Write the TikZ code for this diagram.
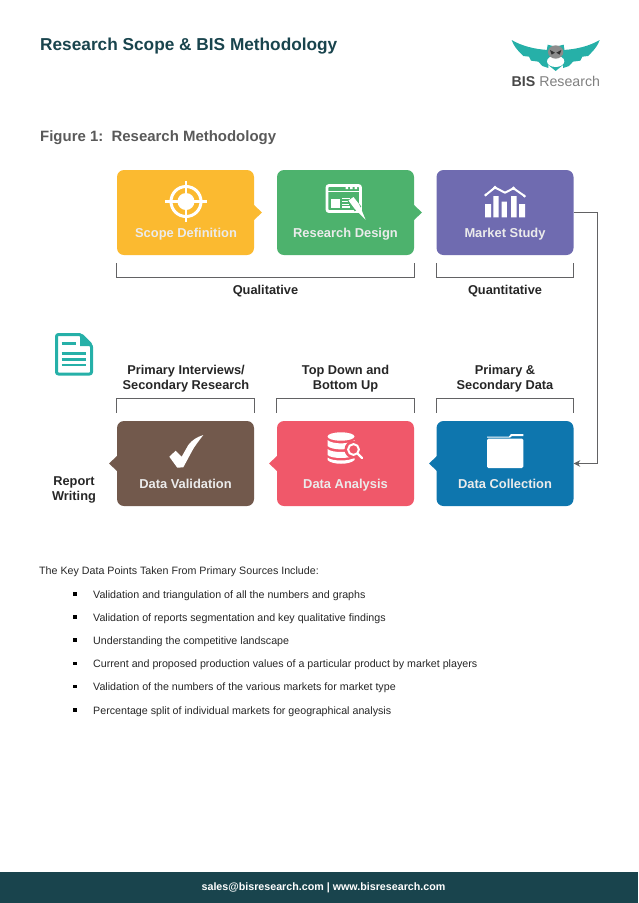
\documentclass[tikz,border=0pt]{standalone}
\usepackage{fontspec}
\setmainfont{Liberation Sans}
\usepackage{tikz}
\usetikzlibrary{arrows.meta}

\definecolor{scopeyellow}{HTML}{FBBA30}
\definecolor{designgreen}{HTML}{4DB26D}
\definecolor{studypurple}{HTML}{6F6BB0}
\definecolor{validbrown}{HTML}{72594C}
\definecolor{analysisred}{HTML}{F0586A}
\definecolor{collectblue}{HTML}{0E76AE}
\definecolor{bandteal}{HTML}{19444D}
\definecolor{owlteal}{HTML}{26B0A8}
\definecolor{rulegray}{HTML}{626264}

\begin{document}
\begin{tikzpicture}[x=1pt, y=-1pt]
  % Define styles
  \tikzstyle{block} = [rectangle, rounded corners=7pt, minimum width=137pt, minimum height=85pt, inner sep=0pt]
  \tikzstyle{blocktext} = [anchor=base, text=white!92!black, font=\fontsize{12.9}{15}\selectfont\bfseries, inner sep=0pt]
  \tikzstyle{grouptag} = [align=center, text=black!85, font=\fontsize{12.8}{15}\selectfont\bfseries, inner sep=0pt]
  \tikzstyle{bodyline} = [anchor=base west, text=black!85, font=\fontsize{10.68}{13}\selectfont, inner sep=0pt]
  \tikzstyle{squaredot} = [rectangle, fill=black, minimum size=3.6pt, inner sep=0pt]
  \tikzstyle{bracket} = [draw=rulegray, line width=1.1pt]

  \useasboundingbox (0,0) rectangle (638,903);

  % Page heading
  \node[anchor=west, inner sep=0pt, text=bandteal, font=\fontsize{17.25}{20}\selectfont\bfseries] (title) at (40,46) {Research Scope \& BIS Methodology};
  \node[anchor=west, inner sep=0pt, text=black!65, font=\fontsize{14.95}{18}\selectfont\bfseries] (figure) at (40,138) {Figure 1:\ \ Research Methodology};

  % Logo
  \begin{scope}[shift={(505,30)}, x=0.3333pt, y=-0.3333pt]
    \fill[owlteal] (20,30) .. controls (50,48) and (90,58) .. (130,60) -- (130,114) -- (112,108) -- (100,95) -- (78,92) -- (72,80) -- (55,78) -- (45,68) .. controls (35,58) and (25,45) .. cycle;
  \end{scope}
  \begin{scope}[shift={(606.33,30)}, x=-0.3333pt, y=-0.3333pt]
    \fill[owlteal] (20,30) .. controls (50,48) and (90,58) .. (130,60) -- (130,114) -- (112,108) -- (100,95) -- (78,92) -- (72,80) -- (55,78) -- (45,68) .. controls (35,58) and (25,45) .. cycle;
  \end{scope}
  \begin{scope}[shift={(505,30)}, x=0.3333pt, y=-0.3333pt]
    \fill[owlteal] (128,44) -- (152,50) -- (176,44) -- (180,70) -- (180,100) -- (152,123) -- (124,100) -- (124,70) -- cycle;
    \fill[white] (152,94) ellipse (26 and 17);
    \fill[black!45] (152,66) ellipse (23 and 20);
    \fill[black!80] (135,60) -- (150,68) -- (140,74) -- cycle (169,60) -- (154,68) -- (164,74) -- cycle;
  \end{scope}
  \node[anchor=base west, inner sep=0pt, text=black!72, font=\fontsize{14.2}{18}\selectfont] (logotext) at (511.5,86) {\textbf{BIS} \textcolor{black!50}{Research}};

  % Top row of steps
  \node[block, fill=scopeyellow] (scope) at (185.5,212.5) {};
  \node[block, fill=designgreen] (design) at (345.5,212.5) {};
  \node[block, fill=studypurple] (study) at (505,212.5) {};
  \fill[scopeyellow] (254,205) -- (262,212.5) -- (254,220) -- cycle;
  \fill[designgreen] (414,205) -- (422,212.5) -- (414,220) -- cycle;
  \node[blocktext] (scopetext) at (186,237) {Scope Definition};
  \node[blocktext] (designtext) at (345.5,237) {Research Design};
  \node[blocktext] (studytext) at (505,237) {Market Study};

  % Bottom row of steps
  \node[block, fill=validbrown] (valid) at (185.5,463.5) {};
  \node[block, fill=analysisred] (analysis) at (345.5,463.5) {};
  \node[block, fill=collectblue] (collect) at (505,463.5) {};
  \fill[validbrown] (117,456) -- (109,463.5) -- (117,471) -- cycle;
  \fill[analysisred] (277,456) -- (269,463.5) -- (277,471) -- cycle;
  \fill[collectblue] (437,456) -- (429,463.5) -- (437,471) -- cycle;
  \node[blocktext] (validtext) at (185.5,488) {Data Validation};
  \node[blocktext] (analysistext) at (345.5,488) {Data Analysis};
  \node[blocktext] (collecttext) at (505,488) {Data Collection};

  % Target icon
  \draw[white, line width=3pt] (186,201.5) circle (15pt);
  \fill[white] (186,201.5) circle (8.5pt);
  \draw[white, line width=2.6pt] (186,181) -- (186,222) (165,201.5) -- (207,201.5);

  % Browser icon
  \draw[white, line width=2.8pt, rounded corners=2pt] (327,185.5) rectangle (360.5,211.5);
  \draw[white, line width=1.6pt] (327,191.5) -- (360.5,191.5);
  \fill[white] (345.5,186.5) rectangle (348,189) (350,186.5) rectangle (352.5,189) (354.5,186.5) rectangle (357,189);
  \fill[white] (330.5,198.5) rectangle (340,207.5);
  \draw[white, line width=1.2pt] (342,198.5) -- (350,198.5) (342,201.5) -- (348,201.5) (342,204.5) -- (349,204.5) (342,207) -- (350,207);
  \draw[designgreen, line width=8pt] (351,199) -- (358,209);
  \fill[white] (348.5,200.5) -- (353.5,197) -- (359,204) -- (365.5,219.5) -- (354.5,208.5) -- cycle;

  % Chart icon
  \fill[white] (485,204) rectangle (491,217.3) (493.3,196) rectangle (498.5,217.3) (501.7,201.7) rectangle (506.9,217.3) (511,196) rectangle (516.5,217.3) (519,204) rectangle (525,217.3);
  \draw[white, line width=2pt, line join=round] (485.7,195) -- (495,187.5) -- (505,192.7) -- (513.5,188.3) -- (524.5,196);
  \fill[white] (495,187.5) circle (1.9pt) (513.5,188.3) circle (1.9pt) (485.7,195) circle (1.5pt) (524.5,196) circle (1.5pt);

  % Check mark icon
  \fill[white] (169.3,456.7) -- (175.7,450.7) -- (181.7,456.7) -- (188.3,445) .. controls (192,440) and (197,437) .. (203.3,435) .. controls (198,442) and (194,447) .. (191.7,451.7) -- (183.3,467.3) -- (177.3,467.7) -- cycle;

  % Database icon
  \fill[white] (341,436.5) ellipse (13.5 and 4.2);
  \fill[white] (327.5,440) .. controls (332,444.5) and (350,444.5) .. (354.5,440) -- (354.5,446) .. controls (350,450.5) and (332,450.5) .. (327.5,446) -- cycle;
  \fill[white] (327.5,449) .. controls (332,453) and (350,453) .. (354.5,449) -- (354.5,455) .. controls (350,459) and (332,459) .. (327.5,455) -- cycle;
  \fill[white] (327.5,457.5) .. controls (332,461.5) and (350,461.5) .. (354.5,457.5) -- (354.5,460) .. controls (350,465) and (332,465) .. (327.5,460) -- cycle;
  \fill[analysisred] (353.5,449.5) circle (9pt);
  \draw[analysisred, line width=5pt] (358,454) -- (363,459);
  \draw[white, line width=2pt] (353.5,449.5) circle (5.4pt);
  \draw[white, line width=2.4pt, line cap=round] (358,454) -- (362,458);

  % Folder icon
  \fill[white, rounded corners=1.5pt] (487,438.5) -- (523.3,438.5) -- (523.3,468) -- (487,468) -- cycle;
  \fill[white] (487,436.5) -- (509,436.5) -- (511,434) -- (523.3,434) -- (523.3,436) -- (512,436) -- (510,437.6) -- (487,437.6) -- cycle;

  % Report icon
  \draw[owlteal, line width=3pt, rounded corners=2pt, line join=round] (56.5,334.5) -- (81,334.5) -- (91.5,345) -- (91.5,374) -- (56.5,374) -- cycle;
  \fill[owlteal] (80,333) -- (93,346) -- (80,346) -- cycle;
  \draw[owlteal, line width=2.4pt] (61.7,343.5) -- (76,343.5) (61.7,353.3) -- (86,353.3) (61.7,359.3) -- (86,359.3) (61.7,365) -- (86,365);

  % Brackets
  \draw[bracket] ([yshift=-8pt]scope.south west) -- ++(0,14) -| ([yshift=-8pt]design.south east);
  \draw[bracket] ([yshift=-8pt]study.south west) -- ++(0,14) -| ([yshift=-8pt]study.south east);
  \draw[bracket] ([yshift=8pt]valid.north west) -- ++(0,-14) -| ([yshift=8pt]valid.north east);
  \draw[bracket] ([yshift=8pt]analysis.north west) -- ++(0,-14) -| ([yshift=8pt]analysis.north east);
  \draw[bracket] ([yshift=8pt]collect.north west) -- ++(0,-14) -| ([yshift=8pt]collect.north east);

  % Arrows
  \draw[bracket, -{Stealth[length=6.5pt,width=6.5pt]}] (study.east) -- ++(24,0) |- (collect.east);

  % Group labels
  \node[grouptag] (qualitative) at (265.5,291.5) {Qualitative};
  \node[grouptag] (quantitative) at (505,291.5) {Quantitative};
  \node[grouptag] (validtag) at (186,378.5) {Primary Interviews/\\Secondary Research};
  \node[grouptag] (analysistag) at (345.5,378.5) {Top Down and\\Bottom Up};
  \node[grouptag] (collecttag) at (505,378.5) {Primary \&\\Secondary Data};
  \node[grouptag] (report) at (74,489.5) {Report\\Writing};

  % Key data points
  \node[bodyline] (keypoints) at (39,574) {The Key Data Points Taken From Primary Sources Include:};
  \node[squaredot] (dot1) at (75,594) {};
  \node[squaredot] (dot2) at (75,617) {};
  \node[squaredot] (dot3) at (75,640) {};
  \node[squaredot] (dot4) at (75,663.5) {};
  \node[squaredot] (dot5) at (75,686.5) {};
  \node[squaredot] (dot6) at (75,710) {};
  \node[bodyline] (point1) at (93,598) {Validation and triangulation of all the numbers and graphs};
  \node[bodyline] (point2) at (93,621) {Validation of reports segmentation and key qualitative findings};
  \node[bodyline] (point3) at (93,644) {Understanding the competitive landscape};
  \node[bodyline] (point4) at (93,667.5) {Current and proposed production values of a particular product by market players};
  \node[bodyline] (point5) at (93,690.5) {Validation of the numbers of the various markets for market type};
  \node[bodyline] (point6) at (93,714) {Percentage split of individual markets for geographical analysis};

  % Footer band
  \fill[bandteal] (0,872) rectangle (638,903);
  \node[text=white, inner sep=0pt, font=\fontsize{10.7}{14}\selectfont\bfseries] (footer) at (323.5,887.5) {sales@bisresearch.com | www.bisresearch.com};
\end{tikzpicture}
\end{document}
